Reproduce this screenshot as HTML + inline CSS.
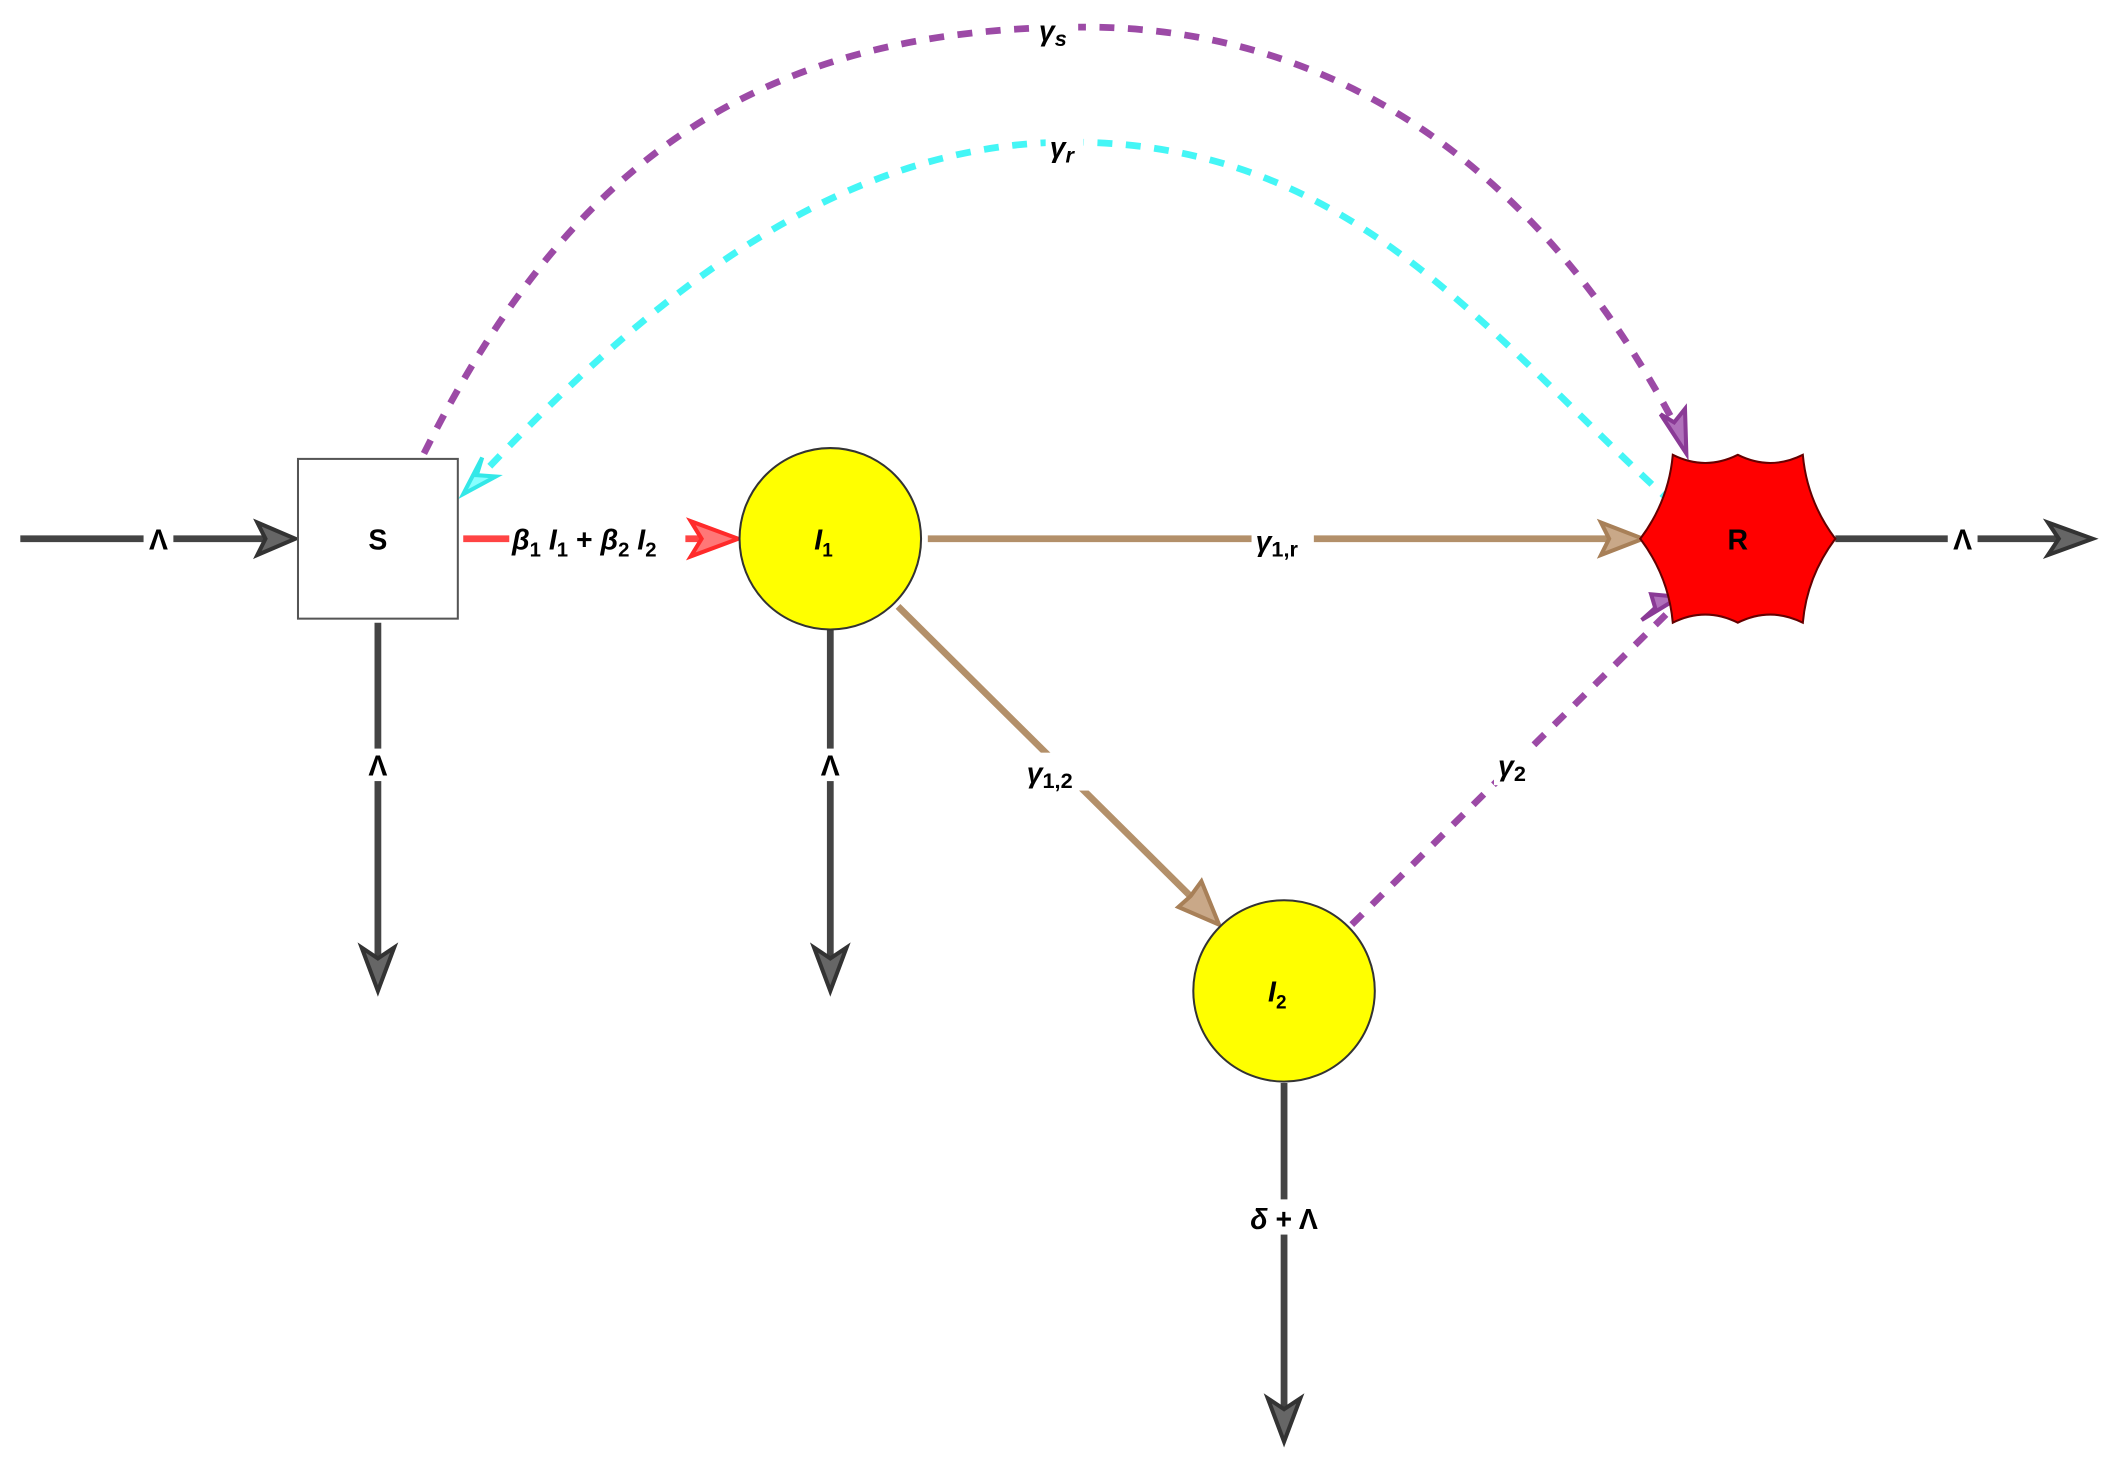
<!DOCTYPE html>
<html><head><meta charset="utf-8"><style>
html,body{margin:0;padding:0;background:#fff;}
svg{display:block;}
text{font-family:"Liberation Sans",sans-serif;font-weight:bold;font-size:21px;fill:#000;}
.it{font-style:italic;}
</style></head><body>
<svg width="2113" height="1462" viewBox="0 0 1560 1080" preserveAspectRatio="none" xmlns="http://www.w3.org/2000/svg">
<g fill="none" stroke-width="5">
<!-- purple gamma_s curve -->
<path d="M313,335 C420,120 560,20 800,20 C1000,20 1150,140 1245,330" stroke="#9c4aa6" stroke-dasharray="11,10"/>
<!-- cyan gamma_r curve -->
<path d="M1235,372 C1100,250 1000,105 790,105 C600,105 450,250 345,362" stroke="#44f6f6" stroke-dasharray="11,10"/>
<!-- gamma_2 -->
<path d="M998,683 L1238,446" stroke="#9c4aa6" stroke-dasharray="11,10"/>
<!-- main lines -->
<path d="M15,398 H208" stroke="#444"/>
<path d="M342,398 H535" stroke="#ff4444"/>
<path d="M685,398 H1203" stroke="#b3906a"/>
<path d="M1355,398 H1535" stroke="#444"/>
<path d="M279,460 V722" stroke="#444"/>
<path d="M613,465 V722" stroke="#444"/>
<path d="M948,800 V1055" stroke="#444"/>
<path d="M663,448 L893,676" stroke="#b3906a"/>
</g>
<!-- arrowheads -->
<g stroke-width="3" stroke-linejoin="miter">
<polygon points="218,398 190,386 196,398 190,410" fill="#666" stroke="#333"/>
<polygon points="545,398 510,385 518,398 510,411" fill="#ff7777" stroke="#ff2a2a"/>
<polygon points="1213,398 1182,386 1188,398 1182,410" fill="#c9a888" stroke="#a88058"/>
<polygon points="1545,398 1512,386 1520,398 1512,410" fill="#666" stroke="#333"/>
<polygon points="279,732 267,700 279,708 291,700" fill="#666" stroke="#333"/>
<polygon points="613,732 601,700 613,708 625,700" fill="#666" stroke="#333"/>
<polygon points="948,1065 936,1033 948,1041 960,1033" fill="#666" stroke="#333"/>
<polygon points="900,683 870,670 879,662 887,651" fill="#c9a888" stroke="#a88058"/>
<polygon points="1245,335 1226,306 1236,312 1244,302" fill="#b070bb" stroke="#8a3a96"/>
<polygon points="1240,441 1212,458 1222,449 1219,439" fill="#b070bb" stroke="#8a3a96"/>
<polygon points="342,365 356,338 352,351 366,352" fill="#88ffff" stroke="#33e8e8"/>
</g>
<!-- nodes -->
<rect x="220" y="339" width="118" height="118" fill="#fff" stroke="#555" stroke-width="1.5"/>
<circle cx="613" cy="398" r="67" fill="#ffff00" stroke="#333" stroke-width="1.5"/>
<circle cx="948" cy="732" r="67" fill="#ffff00" stroke="#333" stroke-width="1.5"/>
<path d="M1211,398 Q1232,370 1235,336 Q1259,348 1283,336 Q1307,348 1331,336 Q1334,370 1355,398 Q1334,426 1331,460 Q1307,448 1283,460 Q1259,448 1235,460 Q1232,426 1211,398 Z" fill="#ff0000" stroke="#600" stroke-width="1.5"/>
<!-- label backgrounds -->
<g fill="#fff">
<rect x="106" y="386" width="22" height="24"/>
<rect x="1438" y="386" width="22" height="24"/>
<rect x="268" y="553" width="22" height="24"/>
<rect x="602" y="553" width="22" height="24"/>
<rect x="918" y="886" width="60" height="26"/>
<rect x="376" y="384" width="130" height="28"/>
<rect x="924" y="386" width="46" height="28"/>
<rect x="756" y="556" width="48" height="28"/>
<rect x="1103" y="552" width="32" height="28"/>
<rect x="764" y="10" width="32" height="28"/>
<rect x="772" y="96" width="28" height="28"/>
</g>
<!-- labels -->
<text x="117" y="406" text-anchor="middle">Λ</text>
<text x="1449" y="406" text-anchor="middle">Λ</text>
<text x="279" y="573" text-anchor="middle">Λ</text>
<text x="613" y="573" text-anchor="middle">Λ</text>
<text x="948" y="908" text-anchor="middle"><tspan class="it">δ</tspan> + Λ</text>
<text x="279" y="406" text-anchor="middle">S</text>
<text x="1283" y="406" text-anchor="middle">R</text>
<text x="608" y="406" class="it" text-anchor="middle">I<tspan font-size="14" dy="5" font-style="normal">1</tspan></text>
<text x="943" y="740" class="it" text-anchor="middle">I<tspan font-size="14" dy="5" font-style="normal">2</tspan></text>
<text x="378" y="406"><tspan class="it">β</tspan><tspan font-size="15" dy="5">1</tspan><tspan dy="-5" class="it"> I</tspan><tspan font-size="15" dy="5">1</tspan><tspan dy="-5"> + </tspan><tspan class="it">β</tspan><tspan font-size="15" dy="5">2</tspan><tspan dy="-5" class="it"> I</tspan><tspan font-size="15" dy="5">2</tspan></text>
<text x="927" y="407"><tspan class="it">γ</tspan><tspan font-size="16" dy="4">1,r</tspan></text>
<text x="758" y="578"><tspan class="it">γ</tspan><tspan font-size="16" dy="4">1,2</tspan></text>
<text x="1106" y="573"><tspan class="it">γ</tspan><tspan font-size="16" dy="4">2</tspan></text>
<text x="767" y="30"><tspan class="it">γ</tspan><tspan font-size="16" dy="4" class="it">s</tspan></text>
<text x="775" y="116"><tspan class="it">γ</tspan><tspan font-size="16" dy="4" class="it">r</tspan></text>
</svg>
</body></html>
